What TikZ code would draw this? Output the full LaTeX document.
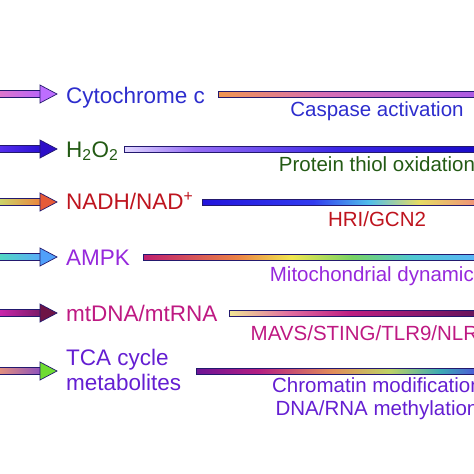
\documentclass[tikz,border=0pt]{standalone}
\usepackage{fontspec}
\setmainfont{Liberation Sans}
\usepackage{tikz}
\usetikzlibrary{calc}
\definecolor{EdgeNavy}{RGB}{35,25,110}
\definecolor{CytoBlue}{RGB}{45,45,205}
\definecolor{PeroxGreen}{RGB}{35,90,20}
\definecolor{NadRed}{RGB}{190,20,30}
\definecolor{AmpkViolet}{RGB}{150,40,220}
\definecolor{DnaMagenta}{RGB}{190,25,130}
\definecolor{TcaIndigo}{RGB}{100,30,210}
% bar stops
\definecolor{CaspOrange}{RGB}{240,150,80}
\definecolor{CaspPink}{RGB}{215,110,180}
\definecolor{CaspViolet}{RGB}{170,90,230}
\definecolor{ThiolLav}{RGB}{225,215,255}
\definecolor{ThiolViolet}{RGB}{150,110,245}
\definecolor{ThiolBlue}{RGB}{60,40,230}
\definecolor{ThiolDeep}{RGB}{25,10,200}
\definecolor{HriBlue}{RGB}{35,20,220}
\definecolor{HriMid}{RGB}{50,60,240}
\definecolor{HriCyan}{RGB}{80,190,235}
\definecolor{HriYellow}{RGB}{230,220,100}
\definecolor{HriPeach}{RGB}{240,140,120}
\definecolor{DynRed}{RGB}{190,30,110}
\definecolor{DynOrange}{RGB}{235,130,70}
\definecolor{DynYellow}{RGB}{240,230,80}
\definecolor{DynGreen}{RGB}{120,210,100}
\definecolor{DynCyan}{RGB}{80,200,210}
\definecolor{DynSky}{RGB}{90,180,250}
\definecolor{MavsCream}{RGB}{240,230,150}
\definecolor{MavsPink}{RGB}{225,110,160}
\definecolor{MavsMagenta}{RGB}{190,30,130}
\definecolor{MavsPlum}{RGB}{100,20,90}
\definecolor{ChromPurple}{RGB}{110,20,150}
\definecolor{ChromMagenta}{RGB}{180,30,130}
\definecolor{ChromOrange}{RGB}{225,140,90}
\definecolor{ChromLime}{RGB}{190,210,100}
\definecolor{ChromTeal}{RGB}{60,170,180}
\definecolor{ChromBlue}{RGB}{80,80,220}
\pgfdeclarehorizontalshading{caspbar}{100bp}{color(0bp)=(CaspOrange); color(25bp)=(CaspOrange); color(45bp)=(CaspPink); color(75bp)=(CaspViolet); color(100bp)=(CaspViolet)}
\pgfdeclarehorizontalshading{thiolbar}{100bp}{color(0bp)=(ThiolLav); color(25bp)=(ThiolLav); color(35bp)=(ThiolViolet); color(55bp)=(ThiolBlue); color(75bp)=(ThiolDeep); color(100bp)=(ThiolDeep)}
\pgfdeclarehorizontalshading{hribar}{100bp}{color(0bp)=(HriBlue); color(25bp)=(HriBlue); color(45bp)=(HriMid); color(55bp)=(HriCyan); color(64bp)=(HriYellow); color(75bp)=(HriPeach); color(100bp)=(HriPeach)}
\pgfdeclarehorizontalshading{dynbar}{100bp}{color(0bp)=(DynRed); color(25bp)=(DynRed); color(39bp)=(DynOrange); color(47bp)=(DynYellow); color(56bp)=(DynGreen); color(65bp)=(DynCyan); color(75bp)=(DynSky); color(100bp)=(DynSky)}
\pgfdeclarehorizontalshading{mavsbar}{100bp}{color(0bp)=(MavsCream); color(25bp)=(MavsCream); color(37bp)=(MavsPink); color(49bp)=(MavsMagenta); color(75bp)=(MavsPlum); color(100bp)=(MavsPlum)}
\pgfdeclarehorizontalshading{chrombar}{100bp}{color(0bp)=(ChromPurple); color(25bp)=(ChromPurple); color(36bp)=(ChromMagenta); color(49bp)=(ChromOrange); color(59bp)=(ChromLime); color(68bp)=(ChromTeal); color(75bp)=(ChromBlue); color(100bp)=(ChromBlue)}
% arrow from a source point to the tip in front of a term
\newcommand{\srcarrow}[4]{%
    \shadedraw[arrowshaft, #3] ([yshift=3.5pt]#1) rectangle ([xshift=-15pt, yshift=-3.5pt]#2);
    \filldraw[arrowhead, fill=#4] ([xshift=-17pt, yshift=9pt]#2) -- (#2) -- ([xshift=-17pt, yshift=-9pt]#2) -- cycle;}

\begin{document}
\begin{tikzpicture}[
    x=1pt, y=-1pt,
    term/.style={anchor=base west, inner sep=0pt, font=\fontsize{22.5}{25}\selectfont},
    effect/.style={anchor=base, inner sep=0pt, font=\fontsize{20.5}{23}\selectfont},
    arrowshaft/.style={draw=EdgeNavy, line width=0.6pt},
    arrowhead/.style={draw=EdgeNavy, line width=0.7pt, line join=miter},
    gradbar/.style={draw=EdgeNavy, line width=0.5pt}
]
    \useasboundingbox (0,0) rectangle (474,474);
    \clip (0,0) rectangle (474,474);

    % Mediators
    \node[term, text=CytoBlue] (cyto) at (66,103) {Cytochrome c};
    \node[term, text=PeroxGreen] (perox) at (66,157) {H\textsubscript{2}O\textsubscript{2}};
    \node[term, text=NadRed] (nad) at (66,209) {NADH/NAD\textsuperscript{+}};
    \node[term, text=AmpkViolet] (ampk) at (66,265) {AMPK};
    \node[term, text=DnaMagenta] (mtdna) at (66,321) {mtDNA/mtRNA};
    \node[term, anchor=west, align=left, text=TcaIndigo] (tca) at (66,369.5) {TCA cycle\\metabolites};

    % Arrow sources and tips
    \foreach \name/\row in {cyto/94, perox/149, nad/202, ampk/257, mtdna/313, tca/371} {
        \coordinate (src-\name) at (-5,\row);
        \coordinate (tip-\name) at (57,\row);
    }
    \srcarrow{src-cyto}{tip-cyto}{left color={rgb,255:red,225;green,120;blue,200}, right color={rgb,255:red,185;green,100;blue,250}}{{rgb,255:red,190;green,110;blue,255}}
    \srcarrow{src-perox}{tip-perox}{left color={rgb,255:red,90;green,50;blue,240}, right color={rgb,255:red,40;green,15;blue,210}}{{rgb,255:red,45;green,15;blue,200}}
    \srcarrow{src-nad}{tip-nad}{left color={rgb,255:red,200;green,220;blue,110}, middle color={rgb,255:red,230;green,100;blue,150}, right color={rgb,255:red,235;green,130;blue,60}}{{rgb,255:red,230;green,90;blue,55}}
    \srcarrow{src-ampk}{tip-ampk}{left color={rgb,255:red,80;green,220;blue,190}, right color={rgb,255:red,90;green,170;blue,250}}{{rgb,255:red,80;green,160;blue,250}}
    \srcarrow{src-mtdna}{tip-mtdna}{left color={rgb,255:red,210;green,40;blue,180}, right color={rgb,255:red,120;green,25;blue,100}}{{rgb,255:red,110;green,20;blue,70}}
    \srcarrow{src-tca}{tip-tca}{left color={rgb,255:red,235;green,150;blue,120}, right color={rgb,255:red,140;green,80;blue,190}}{{rgb,255:red,110;green,220;blue,50}}

    % Pathway bars
    \foreach \name/\bx/\row/\shd in {cyto/218/94/caspbar, perox/124/149/thiolbar, nad/202/202.5/hribar, ampk/143/257/dynbar, mtdna/229/313/mavsbar, tca/196/371/chrombar} {
        \coordinate (bar-\name) at (\bx,\row);
        \coordinate (end-\name) at (480,\row);
        \shadedraw[gradbar, shading=\shd] ([yshift=3pt]bar-\name) rectangle ([yshift=-3pt]end-\name);
    }

    % Downstream effects
    \node[effect, text=CytoBlue] (casp) at (377,116) {Caspase activation};
    \node[effect, text=PeroxGreen] (thiol) at (377,171.5) {Protein thiol oxidation};
    \node[effect, text=NadRed] (hri) at (377,226.5) {HRI/GCN2};
    \node[effect, text=AmpkViolet] (dyn) at (377,281.5) {Mitochondrial dynamics};
    \node[effect, text=DnaMagenta] (mavs) at (377,340) {MAVS/STING/TLR9/NLRP3};
    \node[effect, anchor=center, align=center, text=TcaIndigo] (chrom) at (377,399) {Chromatin modification\\DNA/RNA methylation};
\end{tikzpicture}
\end{document}
